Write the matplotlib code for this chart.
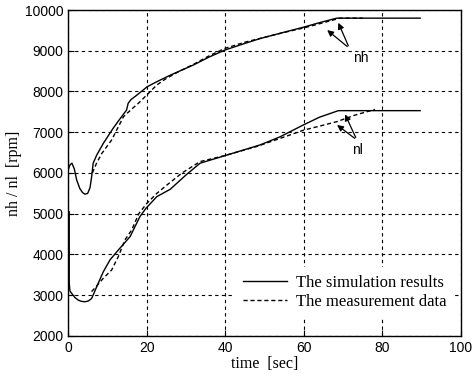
import matplotlib.pyplot as plt

# nh - simulation (solid) and measurement (dashed)
nh_sim_t = [0, 0.5, 1, 1.6, 2.2, 3, 3.7, 4.3, 5, 5.6, 6, 6.4, 7.3, 9, 11.5, 13, 14.9, 15.3, 16, 17.5, 20.2, 22.6, 26, 31.9, 36, 40, 45, 48.9, 54, 60, 64, 68.4, 75, 89.6]
nh_sim_v = [6070, 6200, 6240, 6100, 5830, 5620, 5520, 5480, 5500, 5640, 5900, 6240, 6440, 6730, 7100, 7300, 7545, 7710, 7800, 7910, 8120, 8240, 8400, 8650, 8850, 9020, 9180, 9300, 9430, 9580, 9690, 9800, 9800, 9800]
nh_mea_t = [6.2, 7.3, 8.6, 11.1, 14.1, 16, 18, 20, 22.6, 25, 28, 32, 36, 40, 45, 50, 55, 60, 65.8, 69.2, 75]
nh_mea_v = [6000, 6250, 6480, 6810, 7380, 7550, 7720, 7910, 8160, 8320, 8480, 8670, 8880, 9060, 9210, 9330, 9450, 9560, 9710, 9800, 9800]

# nl - simulation (solid) and measurement (dashed)
nl_sim_t = [0.3, 0.3, 0.5, 0.9, 1.7, 2.6, 3.4, 4.3, 5.2, 6, 6.6, 7.3, 9, 10.7, 12.8, 15.8, 18.3, 19.8, 22.6, 26, 30, 33.6, 40.4, 48.9, 54, 59.9, 64, 68.8, 75, 89.6]
nl_sim_v = [5050, 3300, 3100, 3050, 2950, 2880, 2850, 2840, 2860, 2920, 3050, 3210, 3580, 3870, 4110, 4440, 4930, 5130, 5420, 5600, 5950, 6240, 6440, 6690, 6890, 7180, 7370, 7530, 7530, 7530]
nl_mea_t = [6, 7.5, 9, 11.1, 12.8, 14.5, 16.2, 18, 20, 22.6, 25.1, 29, 33.6, 40, 48, 54, 59.9, 64, 68.4, 73, 78.1]
nl_mea_v = [3090, 3250, 3420, 3620, 3950, 4360, 4600, 5000, 5250, 5500, 5700, 6000, 6280, 6430, 6650, 6850, 7050, 7150, 7260, 7420, 7560]

xticks = [0, 20, 40, 60, 80, 100]
yticks = [2000, 3000, 4000, 5000, 6000, 7000, 8000, 9000, 10000]

fig = plt.figure(figsize=(4.74, 3.76), dpi=100)
ax = fig.add_axes([0.1435, 0.1064, 0.8291, 0.867])

ax.plot(nh_sim_t, nh_sim_v, 'k-', lw=1.0, label='The simulation results')
ax.plot(nh_mea_t, nh_mea_v, 'k--', lw=1.0, dashes=(3, 2), label='The measurement data')
ax.plot(nl_sim_t, nl_sim_v, 'k-', lw=1.0)
ax.plot(nl_mea_t, nl_mea_v, 'k--', lw=1.0, dashes=(3, 2))

ax.set_xlim(0, 100)
ax.set_ylim(2000, 10000)
ax.set_xticks(xticks)
ax.set_yticks(yticks)
ax.grid(True, color='k', linestyle=(0, (3, 3)), lw=0.8)
ax.tick_params(direction='in', labelsize=10, length=4)
for lab in ax.get_xticklabels() + ax.get_yticklabels():
    lab.set_family('Liberation Sans')
for s in ax.spines.values():
    s.set_linewidth(1.0)

ax.set_xlabel('time  [sec]', family='Liberation Serif', fontsize=11.5, labelpad=1)
ax.set_ylabel('nh / nl  [rpm]', family='Liberation Serif', fontsize=11.5, labelpad=2)

# arrows
arr = dict(arrowstyle='-|>', color='k', lw=0.9, mutation_scale=9)
ax.annotate('', xy=(65.4, 9550), xytext=(71.6, 9060), arrowprops=arr)
ax.annotate('', xy=(68.5, 9750), xytext=(71.6, 9060), arrowprops=arr)
ax.text(72.5, 8820, 'nh', fontsize=10, family='Liberation Sans', va='center')
ax.annotate('', xy=(67.9, 7220), xytext=(73.5, 6810), arrowprops=arr)
ax.annotate('', xy=(70.2, 7500), xytext=(73.5, 6810), arrowprops=arr)
ax.text(72.3, 6560, 'nl', fontsize=10, family='Liberation Sans', va='center')

leg = ax.legend(loc='lower right', bbox_to_anchor=(1.005, 0.03), frameon=True,
                prop={'family': 'Liberation Serif', 'size': 12},
                handlelength=2.65, handletextpad=0.5, labelspacing=0.15, borderpad=0.5)
leg.get_frame().set_edgecolor('none')
leg.get_frame().set_facecolor('white')
leg.get_frame().set_alpha(1)
leg.get_frame().set_boxstyle('square', pad=0)

fig.savefig('out.png', dpi=100)
